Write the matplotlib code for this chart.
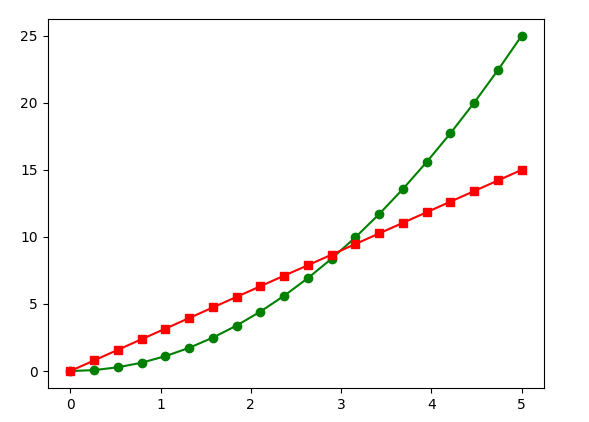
import matplotlib
matplotlib.use("Agg")
import matplotlib.pyplot as plt

# values
x = [0.0, 0.263, 0.526, 0.789, 1.053, 1.316, 1.579, 1.842, 2.105, 2.368,
     2.632, 2.895, 3.158, 3.421, 3.684, 3.947, 4.211, 4.474, 4.737, 5.0]
green_y = [0.0, 0.07, 0.28, 0.62, 1.11, 1.73, 2.49, 3.39, 4.43, 5.61,
           6.93, 8.38, 9.97, 11.70, 13.57, 15.58, 17.73, 20.01, 22.44, 25.0]
red_y = [0.0, 0.79, 1.58, 2.37, 3.16, 3.95, 4.74, 5.53, 6.32, 7.11,
         7.89, 8.68, 9.47, 10.26, 11.05, 11.84, 12.63, 13.42, 14.21, 15.0]

fig, ax = plt.subplots(figsize=(5.89, 4.22), dpi=100)
fig.subplots_adjust(left=0.081, right=0.924, top=0.955, bottom=0.081)
ax.plot(x, green_y, color="green", marker="o")
ax.plot(x, red_y, color="red", marker="s")

plt.savefig("out.png")
